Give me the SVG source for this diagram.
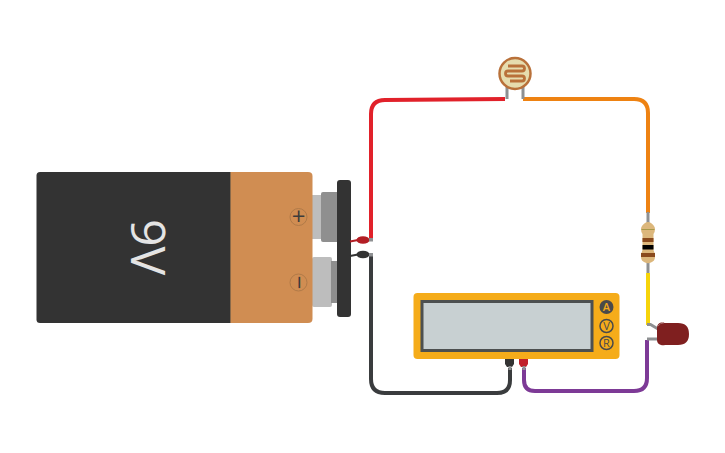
<svg xmlns="http://www.w3.org/2000/svg" width="725" height="453" viewBox="0 0 725 453">
<style>
.w{fill:none;stroke-width:4;stroke-linecap:butt;stroke-linejoin:round}
.lead{fill:none;stroke:#8e9092;stroke-width:3}
.t{font-family:"Open Sans","Liberation Sans",sans-serif;text-anchor:middle}
.ring{fill:none;stroke:#4a4a4a;stroke-width:1.500}
</style>
<rect width="725" height="453" fill="#ffffff"/>
<g id="connectors">
<path class="w" style="stroke:#e1212a" d="M371 238V114Q371 100 385 100L505 99"/>
<path class="w" style="stroke:#ee8212" d="M523 99H634Q648 99 648 113V213"/>
<path class="w" style="stroke:#3a3c3e" d="M371 255V379Q371 393 385 393H497Q510 393 510 380V368"/>
<path class="w" style="stroke:#7d3a96" d="M524 368V380Q524 391 535 391H634Q647 391 647 378V340"/>
<path class="w" style="stroke:#f6d40a" d="M648 273V325"/>
</g>
<g id="battery">
<rect x="312" y="195" width="12" height="44" fill="#bdbdbd"/>
<rect x="321" y="192" width="18" height="50" rx="2" fill="#8f8f8f"/>
<rect x="312" y="257" width="20" height="50" rx="2" fill="#bdbdbd"/>
<rect x="331" y="261" width="8" height="42" fill="#8f8f8f"/>
<rect x="337" y="180" width="14" height="137" rx="3" fill="#333333"/>
<path d="M231 172H40Q36.500 172 36.500 175.500V319.500Q36.500 323 40 323H231Z" fill="#333333"/>
<path d="M230 172H308Q312.500 172 312.500 176V319Q312.500 323 308 323H230Z" fill="#d08d52"/>
<path d="M230.500 172V323" stroke="#8a6a4a" stroke-width="1" fill="none"/>
<text class="t" transform="translate(131 247) rotate(90)" font-size="48" font-weight="500" fill="#e4e4e4">9V</text>
<circle cx="298.500" cy="217" r="8.500" fill="none" stroke="#b07a48" stroke-width="1"/>
<circle cx="298.500" cy="282.500" r="8.500" fill="none" stroke="#b07a48" stroke-width="1"/>
<text class="t" x="298.500" y="224.500" font-size="24" fill="#3c3c3c">+</text>
<text class="t" transform="translate(298.500 282.500) rotate(90)" y="7.500" font-size="24" fill="#3c3c3c">−</text>
<path d="M350 241.500L358 240" stroke="#b31e24" stroke-width="2" fill="none"/>
<ellipse cx="363" cy="240" rx="6.500" ry="3.800" fill="#b31e24"/>
<rect x="369" y="238" width="4" height="3.500" fill="#8e9092"/>
<path d="M350 256L358 254.500" stroke="#333333" stroke-width="2" fill="none"/>
<ellipse cx="363" cy="254.500" rx="6.500" ry="3.800" fill="#333333"/>
<rect x="369" y="253" width="4" height="3.500" fill="#8e9092"/>
</g>
<g id="ldr">
<path class="lead" d="M507 86V99M523 86V99"/>
<circle cx="515" cy="73.500" r="15.500" fill="#e6dcae" stroke="#b9713a" stroke-width="2.500"/>
<path d="M508 66H522A2.500 2.500 0 0 1 522 71H508A2.500 2.500 0 0 0 508 76H522A2.500 2.500 0 0 1 522 81H510" fill="none" stroke="#b9713a" stroke-width="2.800"/>
</g>
<g id="resistor">
<path class="lead" d="M648 212V224M648 262V273"/>
<path d="M645 223Q648 221 651 223Q655 226 655 229Q655 232 653.500 234V250Q655 253 655 257Q655 261 651 262.500Q648 264 645 262.500Q641 261 641 257Q641 253 642.500 250V234Q641 232 641 229Q641 226 645 223Z" fill="#dcb77c"/>
<rect x="641.500" y="229" width="13" height="1" fill="#a8994a"/>
<rect x="642.500" y="238" width="11" height="4" fill="#8a4a1e"/>
<rect x="642.500" y="245" width="11" height="4.500" fill="#000000"/>
<rect x="641" y="253" width="14" height="4" fill="#8a4a1e"/>
</g>
<g id="led">
<path class="lead" d="M647 324.500H650.500L658 329M647 339H659" style="stroke-width:2.800"/>
<path d="M661 322.500Q663 322.500 665 323H678Q689 323 689 334Q689 345 678 345H665Q663 345.500 661 345Q657 344 657 340V328Q657 323.500 661 322.500Z" fill="#7f1f1f"/>
<path d="M658 326Q660 323 664 322.800" stroke="#a86a6a" stroke-width="1" fill="none"/>
</g>
<g id="multimeter">
<rect x="413.500" y="293" width="206" height="66" rx="4" fill="#f5ac1a"/>
<rect x="422" y="301.500" width="170" height="49" fill="#c8d0d2" stroke="#4d5050" stroke-width="3"/>
<circle cx="606.500" cy="307" r="7" fill="#4a4a4a"/>
<circle class="ring" cx="606.500" cy="326" r="6.500"/>
<circle class="ring" cx="606.500" cy="343" r="6.500"/>
<text class="t" x="606.500" y="311" font-size="11" font-weight="600" fill="#f5ac1a">A</text>
<text class="t" x="606.500" y="330" font-size="11" fill="#4a4a4a">V</text>
<text class="t" x="606.500" y="347" font-size="11" fill="#4a4a4a">R</text>
<path d="M505 359H514V364L512 367H507L505 364Z" fill="#333333"/>
<path d="M519 359H528V364L526 367H521L519 364Z" fill="#c1202a"/>
<path d="M510 366V370M524 366V370" stroke="#8e9092" stroke-width="3" fill="none"/>
</g>
</svg>
